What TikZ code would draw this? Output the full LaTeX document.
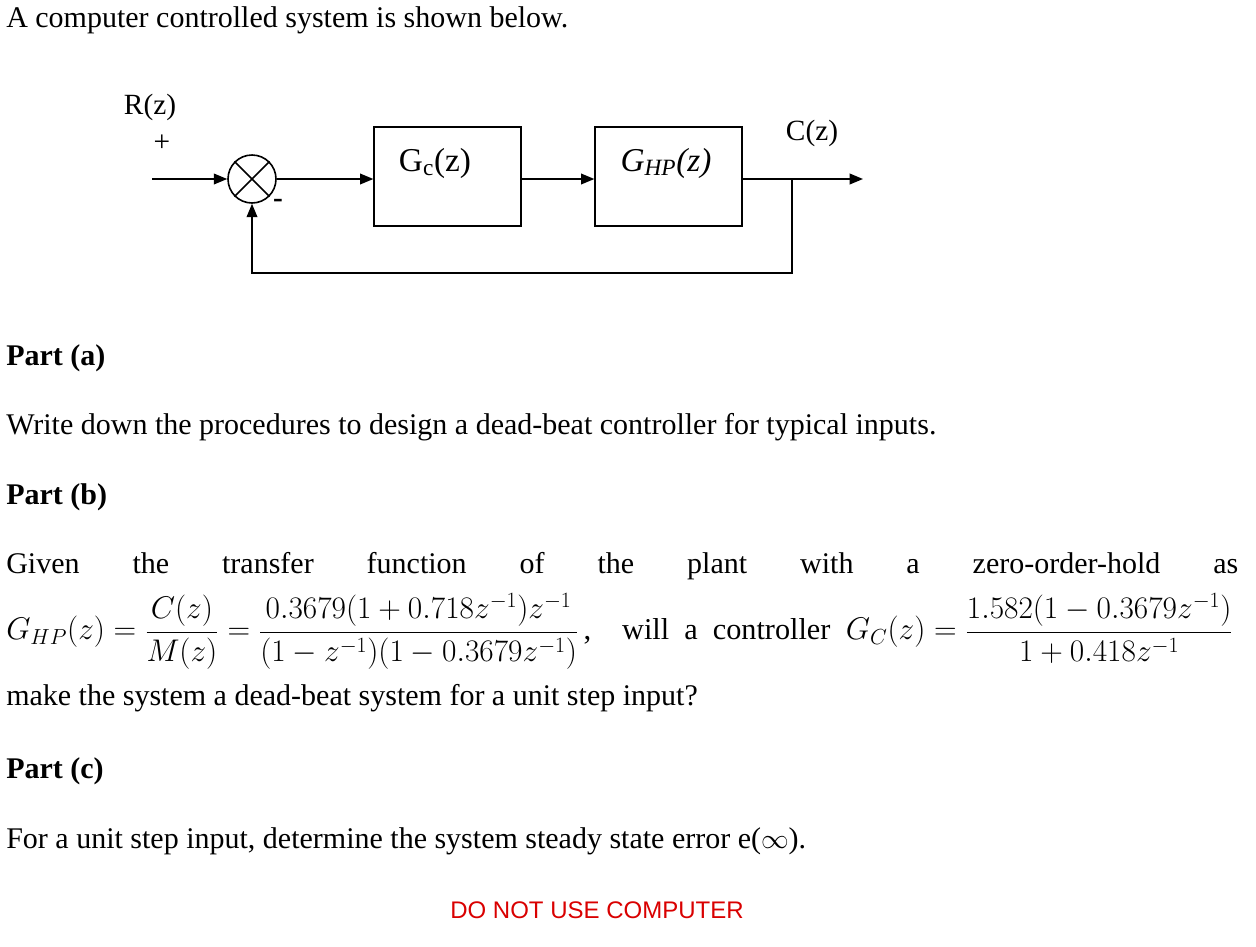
\documentclass[tikz,border=0pt]{standalone}
\usepackage{fontspec}
\usepackage{graphicx}
\setmainfont{Liberation Serif}
\newfontfamily\redsans{Liberation Sans}
\usetikzlibrary{arrows.meta}
\begin{document}
\begin{tikzpicture}[x=0.75pt,y=-0.75pt,
  txt/.style={anchor=west,inner sep=0pt,font=\fontsize{22.5}{27}\selectfont},
  bld/.style={anchor=west,inner sep=0pt,font=\bfseries\fontsize{22.5}{27}\selectfont},
  blk/.style={draw,line width=1.2pt,minimum width=110pt,minimum height=74pt,inner sep=0pt},
  sig/.style={line width=1.2pt,-{Triangle[length=10pt,width=8pt]}},
  lab/.style={font=\fontsize{22}{26}\selectfont}]
\useasboundingbox (0,0) rectangle (1256,946);
\node[txt] (t1) at (6,20) {A computer controlled system is shown below.};
% diagram
\coordinate (in) at (152,179);
\node[draw,circle,line width=1.2pt,minimum size=36pt,inner sep=0pt] (sum) at (252,179) {};
\draw[line width=1.2pt] (sum.north west) -- (sum.south east) (sum.north east) -- (sum.south west);
\node[blk] (gc) at (447.5,176.5) {};
\node[font=\fontsize{25}{28}\selectfont] (gcl) at (435,163) {G\textsubscript{c}(z)};
\node[blk] (ghp) at (668.5,176.5) {};
\node[font=\fontsize{25}{28}\selectfont\itshape] (ghpl) at (666,163) {G\textsubscript{\itshape HP}(z)};
\coordinate (tap) at (792,179);
\coordinate (out) at (863,179);
\coordinate (fb1) at (792,273);
\coordinate (fb2) at (252,273);
\draw[sig] (in) -- (sum.west);
\draw[sig] (sum.east) -- (gc.west |- sum.east);
\draw[sig] (gc.east |- sum.east) -- (ghp.west |- sum.east);
\draw[sig] (ghp.east |- sum.east) -- (out);
\draw[sig] (tap) -- (fb1) -- (fb2) -- (sum.south);
\node[lab] (rz) at (150,107) {R(z)};
\node[lab] (plus) at (162,143) {+};
\node[lab] (cz) at (812,133) {C(z)};
\node[font=\bfseries\fontsize{22}{26}\selectfont] (minus) at (278,203) {-};
% text
\node[bld] (pa) at (6,358) {Part (a)};
\node[txt] (ta) at (6,427) {Write down the procedures to design a dead-beat controller for typical inputs.};
\node[bld] (pb) at (6,497) {Part (b)};
\node[txt] (tb1) at (6,566) {\hbox to 924pt{Given\hfill the\hfill transfer\hfill function\hfill of\hfill the\hfill plant\hfill with\hfill a\hfill zero-order-hold\hfill as}};
\node[txt,font=\fontsize{24.5}{28}\selectfont] (tb2) at (6,631) {\resizebox{920pt}{!}{$\displaystyle G_{HP}(z)=\frac{C(z)}{M(z)}=\frac{0.3679(1+0.718z^{-1})z^{-1}}{(1-z^{-1})(1-0.3679z^{-1})}$\,,\quad {\fontsize{24}{28}\selectfont will\ \ a\ \ controller}\ \ $\displaystyle G_C(z)=\frac{1.582(1-0.3679z^{-1})}{1+0.418z^{-1}}$}};
\node[txt] (tb3) at (6,698) {make the system a dead-beat system for a unit step input?};
\node[bld] (pc) at (6,771) {Part (c)};
\node[txt] (tc) at (6,841) {For a unit step input, determine the system steady state error e($\infty$).};
\node[font=\redsans\fontsize{18}{22}\selectfont,text=red!85!black] (dn) at (597,910) {DO NOT USE COMPUTER};
\end{tikzpicture}
\end{document}
